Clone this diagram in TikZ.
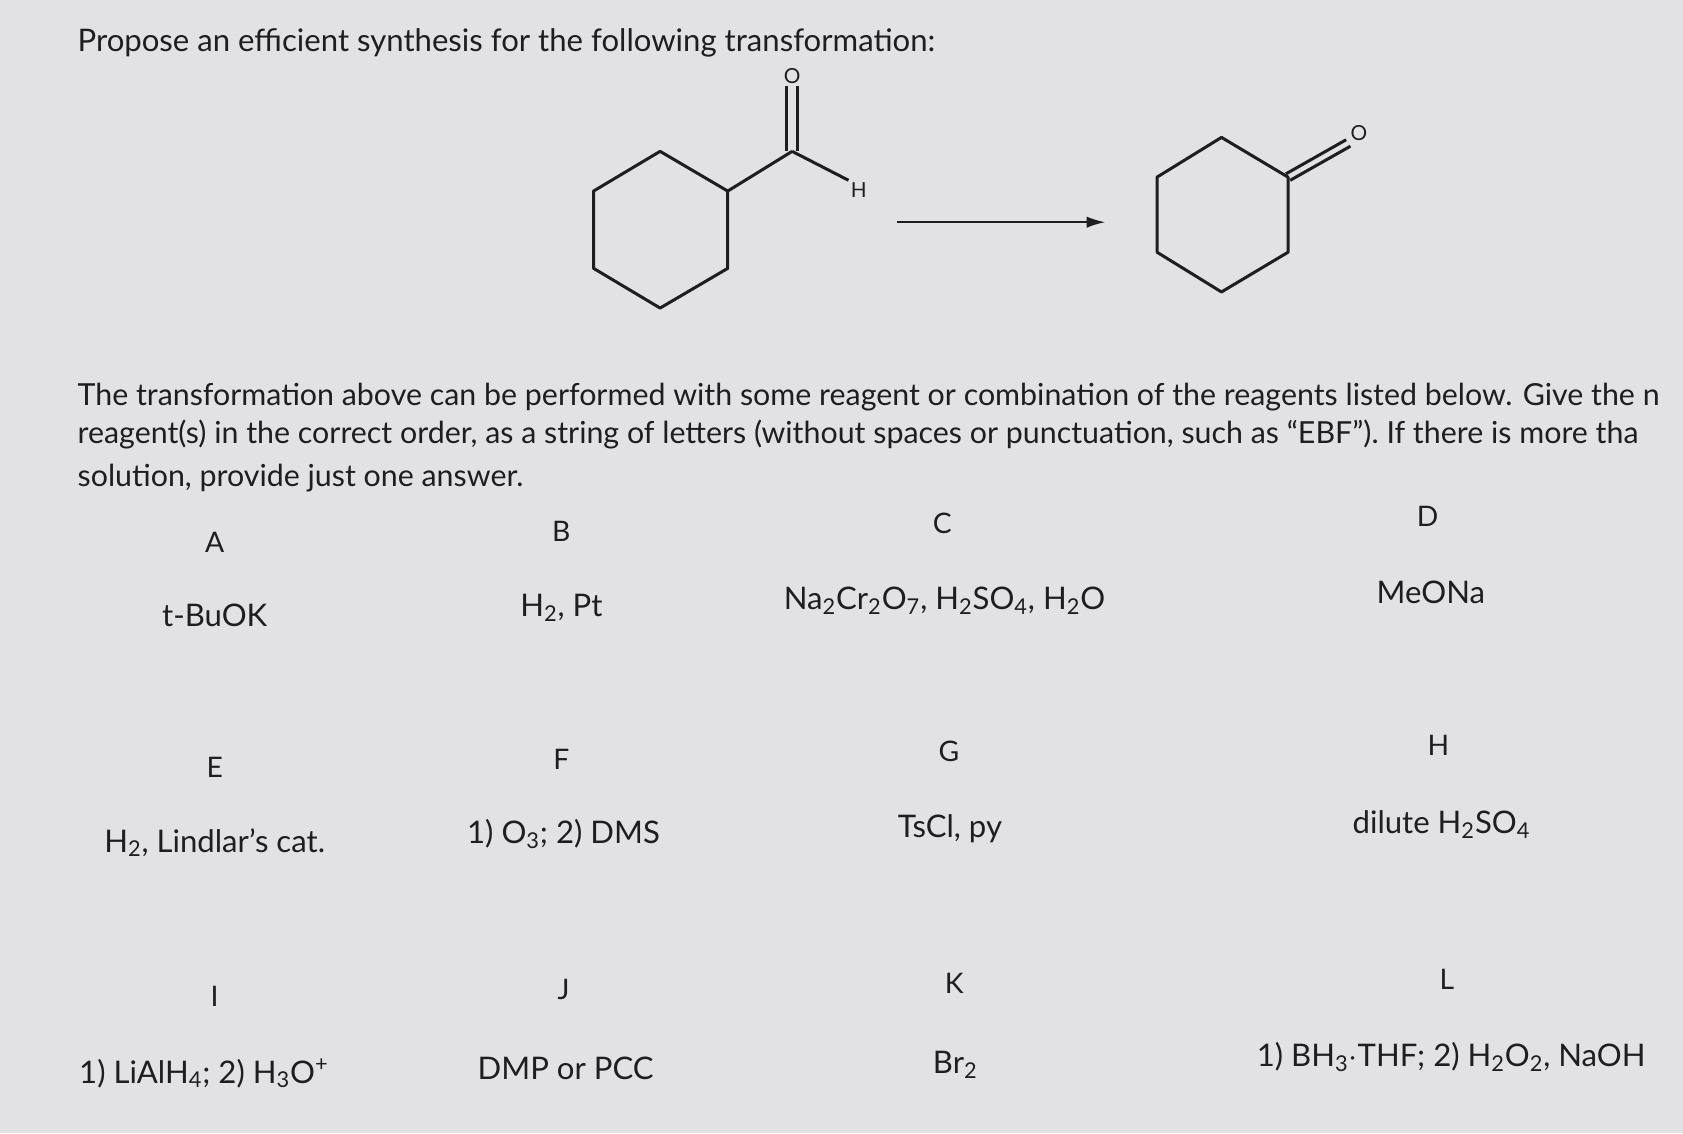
\documentclass[tikz,border=0pt]{standalone}
\usepackage{fontspec}
\setmainfont{Lato}
\usetikzlibrary{arrows.meta}
\definecolor{bg}{RGB}{226,226,228}
\definecolor{ink}{RGB}{30,30,32}
\newcommand{\sub}[1]{\textsubscript{#1}}
\newcommand{\supx}[1]{\textsuperscript{#1}}
\tikzset{
  txt/.style={text=ink,font=\fontsize{16.5}{20}\selectfont,inner sep=0pt},
  para/.style={text=ink,font=\fontsize{16.1}{20}\selectfont,inner sep=0pt},
  lbl/.style={text=ink,font=\fontsize{15}{18}\selectfont,inner sep=0pt},
  rg/.style={text=ink,font=\fontsize{16.5}{20}\selectfont,inner sep=0pt},
  bond/.style={ink,line width=1.6pt,line join=round},
  atom/.style={text=ink,font=\fontsize{11}{13}\selectfont,inner sep=1pt}
}
\begin{document}
\begin{tikzpicture}[x=0.02cm,y=-0.02cm]
\fill[bg] (0,0) rectangle (1568,1056);
\useasboundingbox (0,0) rectangle (1568,1056);
\node[txt,anchor=west] (title) at (72,40) {Propose an efficient synthesis for the following transformation:};
% molecule 1
\draw[bond] (615,141) -- (678,178) -- (678,250) -- (615,287) -- (553,250) -- (553,178) -- cycle;
\coordinate (c1) at (738,141);
\draw[bond] (678,178) -- (c1);
\node[atom] (o1) at (738,71) {O};
\draw[bond] ([xshift=-3]c1) -- ([xshift=-3]o1.south);
\draw[bond] ([xshift=3]c1) -- ([xshift=3]o1.south);
\node[atom] (h1) at (800,177) {H};
\draw[bond] (c1) -- (h1.north west);
% arrow
\coordinate (a1) at (836,207); \coordinate (a2) at (1030,207);
\draw[ink,line width=1.2pt,-{Latex[length=10pt,width=6pt]}] (a1) -- (a2);
% molecule 2
\draw[bond] (1078,165) -- (1138,128) -- (1200,165) -- (1200,235) -- (1138,272) -- (1078,235) -- cycle;
\node[atom] (o2) at (1266,124) {O};
\coordinate (c2) at (1200,165);
\draw[bond] ([shift={(-2,-3)}]c2) -- ([shift={(-2,-3)}]o2.south west);
\draw[bond] ([shift={(2,3)}]c2) -- ([shift={(2,3)}]o2.south west);
% paragraph
\node[para,anchor=west] (p1) at (72,370) {The transformation above can be performed with some reagent or combination of the reagents listed below. Give the n};
\node[para,anchor=west] (p2) at (72,405) {reagent(s) in the correct order, as a string of letters (without spaces or punctuation, such as ``EBF''). If there is more tha};
\node[para,anchor=west] (p3) at (72,445) {solution, provide just one answer.};
% grid
\node[lbl] (A) at (200,505) {A};
\node[lbl] (B) at (523,495) {B};
\node[lbl] (C) at (878,488) {C};
\node[lbl] (D) at (1330,481) {D};
\node[rg] (rA) at (200,573) {t-BuOK};
\node[rg] (rB) at (523,566) {H\sub{2}, Pt};
\node[rg] (rC) at (880,560) {Na\sub{2}Cr\sub{2}O\sub{7}, H\sub{2}SO\sub{4}, H\sub{2}O};
\node[rg] (rD) at (1333,552) {MeONa};
\node[lbl] (E) at (200,715) {E};
\node[lbl] (F) at (523,707) {F};
\node[lbl] (G) at (884,700) {G};
\node[lbl] (H) at (1340,694) {H};
\node[rg] (rE) at (200,785) {H\sub{2}, Lindlar's cat.};
\node[rg] (rF) at (525,777) {1) O\sub{3}; 2) DMS};
\node[rg] (rG) at (885,772) {TsCl, py};
\node[rg] (rH) at (1343,768) {dilute H\sub{2}SO\sub{4}};
\node[lbl] (I) at (200,928) {I};
\node[lbl] (J) at (525,922) {J};
\node[lbl] (K) at (889,916) {K};
\node[lbl] (L) at (1348,912) {L};
\node[rg] (rI) at (190,1000) {1) LiAlH\sub{4}; 2) H\sub{3}O\supx{+}};
\node[rg] (rJ) at (527,995) {DMP or PCC};
\node[rg] (rK) at (890,992) {Br\sub{2}};
\node[rg] (rL) at (1352,985) {1) BH\sub{3}$\cdot$THF; 2) H\sub{2}O\sub{2}, NaOH};
\end{tikzpicture}
\end{document}
